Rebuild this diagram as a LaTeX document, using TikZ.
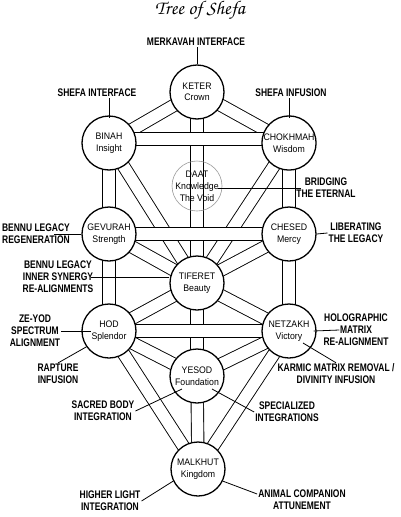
\documentclass[tikz,border=0pt]{standalone}
\usepackage[T1]{fontenc}
\usepackage{fontspec}
\usepackage{tikz}
\usetikzlibrary{calc,backgrounds}
\newfontfamily\lblfont[FakeStretch=0.77]{Liberation Sans}
\newfontfamily\sefirafont[FakeStretch=0.92]{Liberation Sans}
\newcommand{\scriptface}{\fontencoding{T1}\fontfamily{pzc}\fontseries{mb}\fontshape{it}\selectfont}

\begin{document}
\begin{tikzpicture}[x=1pt,y=-1pt,
  sefira/.style={circle,draw,line width=1.3pt,fill=white,minimum size=54pt,inner sep=0pt,align=center,font=\sefirafont\fontsize{9.5}{11.5}\selectfont},
  daatring/.style={circle,draw=black!40,line width=0.6pt,minimum size=50pt,inner sep=0pt},
  daattext/.style={align=center,inner sep=0pt,font=\sefirafont\fontsize{9.5}{12}\selectfont},
  channel/.style={double=white,double distance=11.5pt,line width=0.9pt},
  lbl/.style={align=center,inner sep=1pt,font=\lblfont\bfseries\fontsize{11}{12}\selectfont},
  leader/.style={line width=0.8pt}]
  \useasboundingbox (0,0) rectangle (400,517);
  \node[font=\scriptface\fontsize{19.5}{19.5}\selectfont] (title) at (200,11) {Tree of Shefa};

  \node[sefira] (keter) at (197,92) {KETER\\Crown};
  \node[sefira] (binah) at (109,143) {BINAH\\Insight};
  \node[sefira] (chokhmah) at (289,143) {CHOKHMAH\\Wisdom};
  \node[daatring] (daat) at (197,186) {};
  \node[daattext] (daatname) at (daat) {DAAT\\Knowledge\\The Void};
  \node[sefira] (gevurah) at (109,234) {GEVURAH\\Strength};
  \node[sefira] (chesed) at (289,234) {CHESED\\Mercy};
  \node[sefira] (tiferet) at (197,283) {TIFERET\\Beauty};
  \node[sefira] (hod) at (109,331) {HOD\\Splendor};
  \node[sefira] (netzakh) at (289,331) {NETZAKH\\Victory};
  \node[sefira] (yesod) at (197,376) {YESOD\\Foundation};
  \node[sefira] (malkhut) at (198,469) {MALKHUT\\Kingdom};

  \begin{pgfonlayer}{background}
    \fill[white] (0,0) rectangle (400,517);
    \foreach \a/\b in {keter/tiferet,tiferet/yesod,yesod/malkhut,binah/gevurah,gevurah/hod,chokhmah/chesed,chesed/netzakh,keter/binah,keter/chokhmah,binah/tiferet,chokhmah/tiferet,gevurah/tiferet,chesed/tiferet,hod/tiferet,netzakh/tiferet,hod/yesod,netzakh/yesod,hod/malkhut,netzakh/malkhut}
      \draw[channel] (\a.center) -- (\b.center);
    \draw[channel] ([yshift=4pt]binah.center) -- ([yshift=4pt]chokhmah.center);
    \draw[channel] (gevurah.center) -- (chesed.center);
    \draw[channel] (hod.center) -- (netzakh.center);
  \end{pgfonlayer}

  \node[lbl] (merkavah) at (196,42) {MERKAVAH INTERFACE};
  \node[lbl] (shefaint) at (97,93) {SHEFA INTERFACE};
  \node[lbl] (shefainf) at (291,93) {SHEFA INFUSION};
  \node[lbl] (bridging) at (326,188) {BRIDGING\\THE ETERNAL};
  \node[lbl] (regen) at (36,234) {BENNU LEGACY\\REGENERATION};
  \node[lbl] (liberate) at (356,233) {LIBERATING\\THE LEGACY};
  \node[lbl] (synergy) at (58,277) {BENNU LEGACY\\INNER SYNERGY\\RE-ALIGNMENTS};
  \node[lbl] (zeyod) at (35,331) {ZE-YOD\\SPECTRUM\\ALIGNMENT};
  \node[lbl] (holo) at (356,330) {HOLOGRAPHIC\\MATRIX\\RE-ALIGNMENT};
  \node[lbl] (rapture) at (58,374) {RAPTURE\\INFUSION};
  \node[lbl] (karmic) at (336,374) {KARMIC MATRIX REMOVAL /\\DIVINITY INFUSION};
  \node[lbl] (sacred) at (103,411) {SACRED BODY\\INTEGRATION};
  \node[lbl] (special) at (287,412) {SPECIALIZED\\INTEGRATIONS};
  \node[lbl] (higher) at (110,501) {HIGHER LIGHT\\INTEGRATION};
  \node[lbl] (animal) at (302,500) {ANIMAL COMPANION\\ATTUNEMENT};

  \draw[leader] (keter.north |- merkavah.south) -- (keter.north);
  \draw[leader] (binah.north |- shefaint.south) -- ([yshift=-3pt]binah.north);
  \draw[leader] (chokhmah.north |- shefainf.south) -- ([yshift=-3pt]chokhmah.north);
  \draw[leader] ($(daat.center)+(21,2)$) -- ([xshift=6pt]bridging.west);
  \draw[leader] ([xshift=-17pt]regen.east) -- (gevurah.west);
  \draw[leader] (chesed.east) -- (liberate.west);
  \draw[leader] ([xshift=-3pt]synergy.east) -- (synergy.east -| tiferet.west);
  \draw[leader] (zeyod.east) -- ([xshift=10pt]hod.west);
  \draw[leader] ([xshift=-3pt]netzakh.east) -- ([xshift=17pt]holo.west);
  \draw[leader] (rapture.north) -- (hod.215);
  \draw[leader] ($(netzakh.center)+(14,12)$) -- (karmic.north);
  \draw[leader] (sacred.east) -- ($(yesod.center)+(-15,13)$);
  \draw[leader] ($(yesod.center)+(15,13)$) -- (special.west);
  \draw[leader] (higher.east) -- (malkhut.206);
  \draw[leader] (malkhut.-26) -- ([yshift=6pt]animal.west);
\end{tikzpicture}
\end{document}
